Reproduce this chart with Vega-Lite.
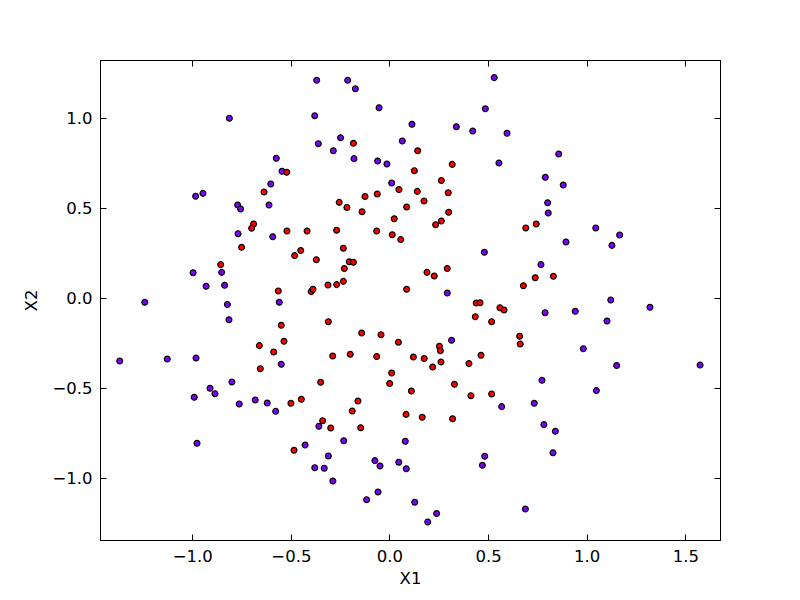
{
  "$schema": "https://vega.github.io/schema/vega-lite/v6.json",
  "width": 620,
  "height": 480,
  "autosize": "none",
  "padding": {"left": 100, "top": 60, "right": 80, "bottom": 60},
  "background": "white",
  "config": {
    "view": {"stroke": "black", "strokeWidth": 1},
    "axis": {
      "grid": false,
      "labelFont": "DejaVu Sans",
      "labelFontSize": 16.5,
      "labelColor": "black",
      "titleFont": "DejaVu Sans",
      "titleFontSize": 16.5,
      "titleFontWeight": "normal",
      "titleColor": "black",
      "domainColor": "black",
      "tickColor": "black",
      "tickWidth": 1,
      "tickSize": -6,
      "labelPadding": 14
    }
  },
  "data": {"values": [
    {"x1": -0.812, "x2": 1.000, "label": 0},
    {"x1": -0.574, "x2": 0.778, "label": 0},
    {"x1": -0.545, "x2": 0.706, "label": 0},
    {"x1": -0.521, "x2": 0.700, "label": 1},
    {"x1": -0.602, "x2": 0.635, "label": 0},
    {"x1": -0.636, "x2": 0.591, "label": 1},
    {"x1": -0.983, "x2": 0.567, "label": 0},
    {"x1": -0.946, "x2": 0.583, "label": 0},
    {"x1": -0.770, "x2": 0.518, "label": 0},
    {"x1": -0.755, "x2": 0.496, "label": 0},
    {"x1": -0.611, "x2": 0.518, "label": 0},
    {"x1": -0.689, "x2": 0.413, "label": 1},
    {"x1": -0.699, "x2": 0.389, "label": 1},
    {"x1": -0.768, "x2": 0.359, "label": 0},
    {"x1": -0.592, "x2": 0.342, "label": 0},
    {"x1": -0.520, "x2": 0.374, "label": 1},
    {"x1": -0.418, "x2": 0.374, "label": 1},
    {"x1": -0.750, "x2": 0.283, "label": 1},
    {"x1": -0.481, "x2": 0.237, "label": 1},
    {"x1": -0.450, "x2": 0.265, "label": 1},
    {"x1": -0.856, "x2": 0.187, "label": 1},
    {"x1": -0.996, "x2": 0.142, "label": 0},
    {"x1": -0.851, "x2": 0.144, "label": 0},
    {"x1": -0.930, "x2": 0.067, "label": 0},
    {"x1": -0.836, "x2": 0.072, "label": 0},
    {"x1": -0.564, "x2": 0.041, "label": 1},
    {"x1": -0.397, "x2": 0.037, "label": 1},
    {"x1": -0.388, "x2": 0.050, "label": 1},
    {"x1": -1.241, "x2": -0.022, "label": 0},
    {"x1": -0.559, "x2": -0.022, "label": 0},
    {"x1": -0.822, "x2": -0.035, "label": 0},
    {"x1": -0.369, "x2": 1.211, "label": 0},
    {"x1": -0.212, "x2": 1.211, "label": 0},
    {"x1": -0.173, "x2": 1.164, "label": 0},
    {"x1": 0.531, "x2": 1.226, "label": 0},
    {"x1": -0.053, "x2": 1.059, "label": 0},
    {"x1": 0.486, "x2": 1.053, "label": 0},
    {"x1": -0.379, "x2": 1.014, "label": 0},
    {"x1": 0.114, "x2": 0.967, "label": 0},
    {"x1": 0.339, "x2": 0.953, "label": 0},
    {"x1": 0.422, "x2": 0.929, "label": 0},
    {"x1": 0.596, "x2": 0.917, "label": 0},
    {"x1": -0.361, "x2": 0.859, "label": 0},
    {"x1": -0.248, "x2": 0.892, "label": 0},
    {"x1": -0.183, "x2": 0.861, "label": 1},
    {"x1": 0.065, "x2": 0.874, "label": 0},
    {"x1": -0.285, "x2": 0.820, "label": 0},
    {"x1": 0.143, "x2": 0.820, "label": 1},
    {"x1": -0.180, "x2": 0.776, "label": 0},
    {"x1": -0.060, "x2": 0.763, "label": 0},
    {"x1": -0.013, "x2": 0.746, "label": 0},
    {"x1": 0.318, "x2": 0.744, "label": 1},
    {"x1": 0.555, "x2": 0.752, "label": 0},
    {"x1": 0.126, "x2": 0.709, "label": 1},
    {"x1": 0.263, "x2": 0.655, "label": 1},
    {"x1": 0.011, "x2": 0.641, "label": 0},
    {"x1": 0.048, "x2": 0.604, "label": 1},
    {"x1": 0.141, "x2": 0.594, "label": 1},
    {"x1": 0.298, "x2": 0.587, "label": 1},
    {"x1": -0.124, "x2": 0.565, "label": 1},
    {"x1": -0.062, "x2": 0.579, "label": 1},
    {"x1": -0.255, "x2": 0.533, "label": 1},
    {"x1": -0.216, "x2": 0.505, "label": 1},
    {"x1": 0.175, "x2": 0.541, "label": 1},
    {"x1": 0.087, "x2": 0.507, "label": 1},
    {"x1": -0.139, "x2": 0.481, "label": 1},
    {"x1": 0.300, "x2": 0.478, "label": 1},
    {"x1": 0.024, "x2": 0.442, "label": 1},
    {"x1": 0.263, "x2": 0.429, "label": 1},
    {"x1": 0.234, "x2": 0.409, "label": 1},
    {"x1": -0.268, "x2": 0.378, "label": 1},
    {"x1": -0.065, "x2": 0.374, "label": 1},
    {"x1": 0.014, "x2": 0.353, "label": 1},
    {"x1": 0.057, "x2": 0.326, "label": 1},
    {"x1": -0.234, "x2": 0.278, "label": 1},
    {"x1": -0.371, "x2": 0.214, "label": 1},
    {"x1": -0.204, "x2": 0.203, "label": 1},
    {"x1": -0.183, "x2": 0.200, "label": 1},
    {"x1": -0.229, "x2": 0.165, "label": 1},
    {"x1": 0.481, "x2": 0.256, "label": 0},
    {"x1": 0.293, "x2": 0.165, "label": 1},
    {"x1": 0.190, "x2": 0.144, "label": 1},
    {"x1": 0.227, "x2": 0.124, "label": 1},
    {"x1": -0.234, "x2": 0.094, "label": 1},
    {"x1": -0.312, "x2": 0.074, "label": 1},
    {"x1": -0.268, "x2": 0.076, "label": 1},
    {"x1": 0.087, "x2": 0.050, "label": 1},
    {"x1": 0.293, "x2": 0.029, "label": 0},
    {"x1": 0.440, "x2": -0.026, "label": 1},
    {"x1": 0.459, "x2": -0.025, "label": 1},
    {"x1": 0.560, "x2": -0.052, "label": 1},
    {"x1": 0.581, "x2": -0.065, "label": 1},
    {"x1": 0.858, "x2": 0.802, "label": 0},
    {"x1": 0.790, "x2": 0.672, "label": 0},
    {"x1": 0.881, "x2": 0.629, "label": 0},
    {"x1": 0.802, "x2": 0.531, "label": 0},
    {"x1": 0.805, "x2": 0.474, "label": 0},
    {"x1": 0.691, "x2": 0.391, "label": 1},
    {"x1": 0.744, "x2": 0.413, "label": 1},
    {"x1": 1.046, "x2": 0.391, "label": 0},
    {"x1": 1.167, "x2": 0.352, "label": 0},
    {"x1": 1.128, "x2": 0.294, "label": 0},
    {"x1": 0.895, "x2": 0.313, "label": 0},
    {"x1": 0.768, "x2": 0.187, "label": 0},
    {"x1": 0.739, "x2": 0.114, "label": 1},
    {"x1": 0.831, "x2": 0.122, "label": 1},
    {"x1": 0.679, "x2": 0.070, "label": 1},
    {"x1": 1.122, "x2": -0.009, "label": 0},
    {"x1": 1.321, "x2": -0.050, "label": 0},
    {"x1": -0.814, "x2": -0.119, "label": 0},
    {"x1": -0.549, "x2": -0.150, "label": 1},
    {"x1": -0.535, "x2": -0.239, "label": 1},
    {"x1": -0.660, "x2": -0.263, "label": 1},
    {"x1": -0.587, "x2": -0.298, "label": 1},
    {"x1": -1.368, "x2": -0.348, "label": 0},
    {"x1": -1.127, "x2": -0.337, "label": 0},
    {"x1": -0.981, "x2": -0.332, "label": 0},
    {"x1": -0.549, "x2": -0.367, "label": 0},
    {"x1": -0.655, "x2": -0.391, "label": 1},
    {"x1": -0.799, "x2": -0.465, "label": 0},
    {"x1": -0.910, "x2": -0.500, "label": 0},
    {"x1": -0.885, "x2": -0.530, "label": 0},
    {"x1": -0.990, "x2": -0.550, "label": 0},
    {"x1": -0.762, "x2": -0.587, "label": 0},
    {"x1": -0.681, "x2": -0.565, "label": 0},
    {"x1": -0.620, "x2": -0.582, "label": 0},
    {"x1": -0.500, "x2": -0.583, "label": 1},
    {"x1": -0.447, "x2": -0.561, "label": 1},
    {"x1": -0.577, "x2": -0.628, "label": 0},
    {"x1": -0.976, "x2": -0.806, "label": 0},
    {"x1": -0.484, "x2": -0.844, "label": 1},
    {"x1": -0.428, "x2": -0.815, "label": 0},
    {"x1": -0.310, "x2": -0.130, "label": 1},
    {"x1": -0.141, "x2": -0.193, "label": 1},
    {"x1": -0.043, "x2": -0.202, "label": 1},
    {"x1": 0.045, "x2": -0.244, "label": 1},
    {"x1": -0.288, "x2": -0.321, "label": 1},
    {"x1": -0.199, "x2": -0.311, "label": 1},
    {"x1": -0.065, "x2": -0.324, "label": 1},
    {"x1": 0.121, "x2": -0.326, "label": 1},
    {"x1": 0.176, "x2": -0.335, "label": 1},
    {"x1": 0.253, "x2": -0.267, "label": 1},
    {"x1": 0.258, "x2": -0.291, "label": 1},
    {"x1": 0.315, "x2": -0.233, "label": 0},
    {"x1": 0.219, "x2": -0.382, "label": 1},
    {"x1": 0.261, "x2": -0.354, "label": 1},
    {"x1": 0.403, "x2": -0.363, "label": 1},
    {"x1": 0.464, "x2": -0.317, "label": 1},
    {"x1": 0.518, "x2": -0.130, "label": 1},
    {"x1": 0.435, "x2": -0.102, "label": 1},
    {"x1": 0.011, "x2": -0.415, "label": 1},
    {"x1": 0.001, "x2": -0.474, "label": 1},
    {"x1": -0.349, "x2": -0.467, "label": 1},
    {"x1": 0.111, "x2": -0.515, "label": 1},
    {"x1": 0.329, "x2": -0.478, "label": 1},
    {"x1": 0.413, "x2": -0.541, "label": 1},
    {"x1": 0.518, "x2": -0.532, "label": 1},
    {"x1": 0.569, "x2": -0.602, "label": 0},
    {"x1": -0.160, "x2": -0.571, "label": 1},
    {"x1": -0.189, "x2": -0.626, "label": 1},
    {"x1": 0.084, "x2": -0.645, "label": 1},
    {"x1": 0.166, "x2": -0.661, "label": 1},
    {"x1": 0.320, "x2": -0.669, "label": 1},
    {"x1": -0.339, "x2": -0.680, "label": 1},
    {"x1": -0.358, "x2": -0.711, "label": 0},
    {"x1": -0.298, "x2": -0.721, "label": 1},
    {"x1": -0.146, "x2": -0.719, "label": 1},
    {"x1": -0.232, "x2": -0.791, "label": 0},
    {"x1": 0.080, "x2": -0.794, "label": 0},
    {"x1": -0.310, "x2": -0.876, "label": 0},
    {"x1": -0.379, "x2": -0.941, "label": 0},
    {"x1": -0.331, "x2": -0.944, "label": 0},
    {"x1": -0.287, "x2": -1.015, "label": 0},
    {"x1": -0.074, "x2": -0.902, "label": 0},
    {"x1": -0.048, "x2": -0.932, "label": 0},
    {"x1": 0.047, "x2": -0.911, "label": 0},
    {"x1": 0.085, "x2": -0.947, "label": 0},
    {"x1": 0.483, "x2": -0.878, "label": 0},
    {"x1": 0.471, "x2": -0.928, "label": 0},
    {"x1": -0.058, "x2": -1.076, "label": 0},
    {"x1": -0.116, "x2": -1.119, "label": 0},
    {"x1": 0.128, "x2": -1.133, "label": 0},
    {"x1": 0.239, "x2": -1.196, "label": 0},
    {"x1": 0.194, "x2": -1.243, "label": 0},
    {"x1": 0.789, "x2": -0.080, "label": 0},
    {"x1": 0.942, "x2": -0.072, "label": 0},
    {"x1": 1.103, "x2": -0.126, "label": 0},
    {"x1": 0.660, "x2": -0.211, "label": 1},
    {"x1": 0.663, "x2": -0.254, "label": 1},
    {"x1": 0.983, "x2": -0.280, "label": 0},
    {"x1": 1.152, "x2": -0.374, "label": 0},
    {"x1": 1.575, "x2": -0.371, "label": 0},
    {"x1": 0.773, "x2": -0.456, "label": 0},
    {"x1": 1.049, "x2": -0.513, "label": 0},
    {"x1": 0.734, "x2": -0.583, "label": 0},
    {"x1": 0.783, "x2": -0.702, "label": 0},
    {"x1": 0.841, "x2": -0.739, "label": 0},
    {"x1": 0.829, "x2": -0.858, "label": 0},
    {"x1": 0.689, "x2": -1.171, "label": 0}
  ]},
  "layer": [
    {
      "mark": {"type": "circle", "size": 34, "opacity": 1, "stroke": "black", "strokeWidth": 1.2},
      "encoding": {
        "x": {
          "field": "x1", "type": "quantitative",
          "scale": {"domain": [-1.468, 1.676], "nice": false, "zero": false},
          "axis": {"orient": "bottom", "title": "X1", "values": [-1, -0.5, 0, 0.5, 1, 1.5], "format": ".1f", "titlePadding": 6}
        },
        "y": {
          "field": "x2", "type": "quantitative",
          "scale": {"domain": [-1.343, 1.324], "nice": false, "zero": false},
          "axis": {"orient": "left", "title": "X2", "values": [-1, -0.5, 0, 0.5, 1], "format": ".1f", "titlePadding": 12}
        },
        "color": {
          "field": "label", "type": "nominal",
          "scale": {"domain": [0, 1], "range": ["#8000ff", "#ff0000"]},
          "legend": null
        }
      }
    },
    {
      "mark": {"type": "circle", "opacity": 0},
      "encoding": {
        "x": {
          "field": "x1", "type": "quantitative",
          "axis": {"orient": "top", "title": null, "labels": false, "values": [-1, -0.5, 0, 0.5, 1, 1.5]}
        },
        "y": {
          "field": "x2", "type": "quantitative",
          "axis": {"orient": "right", "title": null, "labels": false, "values": [-1, -0.5, 0, 0.5, 1]}
        }
      }
    }
  ],
  "resolve": {"axis": {"x": "independent", "y": "independent"}}
}
